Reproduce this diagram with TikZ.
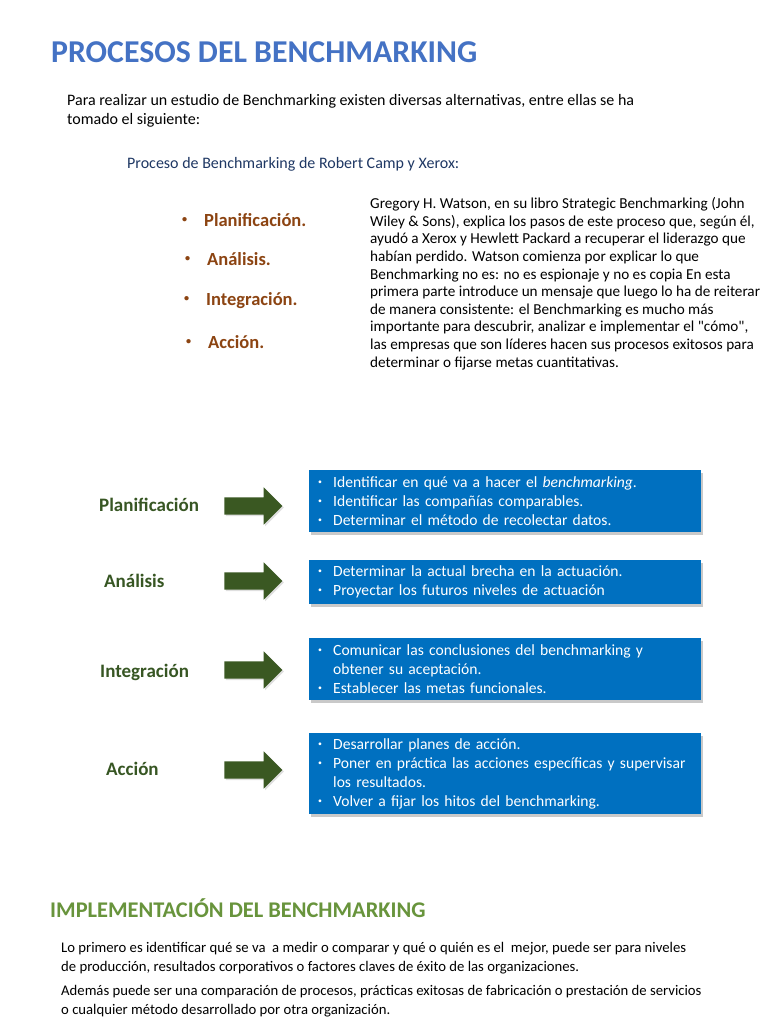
\documentclass[tikz,border=0pt]{standalone}
\usepackage{fontspec}
\setmainfont{Carlito}[Ligatures=TeXOff]
\usepackage{tikz}
\usetikzlibrary{
  shapes.arrows,
  positioning,
  shadows
}
\usepackage{xcolor}
\definecolor{titleblue} {RGB}{68, 114, 196}
\definecolor{subblue}   {RGB}{31,  56, 100}
\definecolor{phasebrown}{RGB}{140, 68,  18}
\definecolor{phasegreen}{RGB}{55,  86,  35}
\definecolor{arrowgreen}{RGB}{58,  88,  34}
\definecolor{boxblue}   {RGB}{0,  112, 192}
\definecolor{implgreen} {RGB}{104, 148, 60}
\newcommand{\bdot}{\makebox[15pt][l]{\raisebox{3pt}{\scalebox{0.5}{\textbullet}}}}
\newcommand{\bgap}{\hspace*{15pt}}
\newcommand{\pdot}{\makebox[22pt][l]{\raisebox{3.5pt}{\scalebox{0.55}{\textbullet}}}}
\tikzset{
  bodytext/.style={
    anchor=base west, inner sep=0pt, align=left,
    font=\fontsize{16}{19}\selectfont
  },
  phaseitem/.style={
    anchor=base west, inner sep=0pt, text=phasebrown,
    font=\fontsize{18.5}{20}\selectfont\bfseries
  },
  phaselabel/.style={
    anchor=base west, inner sep=0pt, text=phasegreen,
    font=\fontsize{19}{20}\selectfont\bfseries
  },
  stepbox/.style={
    anchor=north west, fill=boxblue, text=white,
    minimum width=392pt, minimum height=#1,
    inner xsep=9pt, inner ysep=0pt, align=left,
    text width=374pt,
    font=\fontsize{15.6}{19}\selectfont,
    drop shadow={shadow xshift=2pt, shadow yshift=-2.5pt,
                 opacity=0.35, fill=black!60}
  },
  stepbox/.default=62pt,
  bigarrow/.style={
    single arrow, fill=arrowgreen, draw=none,
    minimum height=58pt, minimum width=37pt,
    single arrow head extend=10pt, inner xsep=0pt, inner ysep=8.5pt,
    drop shadow={shadow xshift=1.5pt, shadow yshift=-1.5pt,
                 opacity=0.25, fill=black!50}
  },
}

\begin{document}
\begin{tikzpicture}[x=1pt, y=-1pt]

\useasboundingbox[fill=white] (0,0) rectangle (768,1024);

% ── Title and introduction ───────────────────────────────────────────────────
\node[anchor=base west, inner sep=0pt, text=titleblue,
      font=\fontsize{31.8}{34}\selectfont\bfseries] (title) at (51,63)
  {PROCESOS DEL BENCHMARKING};

\node[bodytext] (intro) at (67,125) {
  Para realizar un estudio de Benchmarking existen diversas alternativas, entre ellas se ha\\
  tomado el siguiente:
};

\node[bodytext, text=subblue] (camp) at (127,169)
  {Proceso de Benchmarking de Robert Camp y Xerox:};

% ── Phase list ───────────────────────────────────────────────────────────────
\node[phaseitem] (planit) at (182,226) {\pdot Planificación.};
\node[phaseitem] (anait)  at (185,265) {\pdot Análisis.};
\node[phaseitem] (intit)  at (184,305) {\pdot Integración.};
\node[phaseitem] (accit)  at (186,348) {\pdot Acción.};

% ── Watson paragraph ─────────────────────────────────────────────────────────
\node[bodytext, font=\fontsize{15.2}{17.6}\selectfont] (watson) at (370,367) {
  Gregory H. Watson, en su libro Strategic Benchmarking (John\\
  Wiley \& Sons), explica los pasos de este proceso que, según él,\\
  ayudó a Xerox y Hewlett Packard a recuperar el liderazgo que\\
  habían perdido. Watson comienza por explicar lo que\\
  Benchmarking no es: no es espionaje y no es copia En esta\\
  primera parte introduce un mensaje que luego lo ha de reiterar\\
  de manera consistente: el Benchmarking es mucho más\\
  importante para descubrir, analizar e implementar el "cómo",\\
  las empresas que son líderes hacen sus procesos exitosos para\\
  determinar o fijarse metas cuantitativas.
};

% ── Steps: label, arrow, box ─────────────────────────────────────────────────
\node[bigarrow] (arr1) at (249,506) {};
\node[bigarrow] (arr2) at (249,581) {};
\node[bigarrow] (arr3) at (249,670) {};
\node[bigarrow] (arr4) at (249,770) {};

\node[phaselabel] (plan)  at (99,511)  {Planificación};
\node[phaselabel] (ana)   at (104,587) {Análisis};
\node[phaselabel] (integ) at (100,677) {Integración};
\node[phaselabel] (acc)   at (106,775) {Acción};

\node[stepbox=62pt] (box1) at (309,470) {
  \bdot Identificar en qué va a hacer el \textit{benchmarking}.\\
  \bdot Identificar las compañías comparables.\\
  \bdot Determinar el método de recolectar datos.
};

\node[stepbox=44pt] (box2) at (309,560) {
  \bdot Determinar la actual brecha en la actuación.\\
  \bdot Proyectar los futuros niveles de actuación
};

\node[stepbox=62pt] (box3) at (309,638) {
  \bdot Comunicar las conclusiones del benchmarking y\\
  \bgap obtener su aceptación.\\
  \bdot Establecer las metas funcionales.
};

\node[stepbox=81pt] (box4) at (309,733) {
  \bdot Desarrollar planes de acción.\\
  \bdot Poner en práctica las acciones específicas y supervisar\\
  \bgap los resultados.\\
  \bdot Volver a fijar los hitos del benchmarking.
};

% ── Implementation ───────────────────────────────────────────────────────────
\node[anchor=base west, inner sep=0pt, text=implgreen,
      font=\fontsize{22.4}{24}\selectfont\bfseries] (impl) at (50,917)
  {IMPLEMENTACIÓN DEL BENCHMARKING};

\node[bodytext, font=\fontsize{14.7}{19}\selectfont] (impl1) at (61,971) {
  Lo primero es identificar qué se va \ a medir o comparar y qué o quién es el \ mejor, puede ser para niveles\\
  de producción, resultados corporativos o factores claves de éxito de las organizaciones.
};

\node[bodytext, font=\fontsize{14.7}{19}\selectfont] (impl2) at (61,1014) {
  Además puede ser una comparación de procesos, prácticas exitosas de fabricación o prestación de servicios\\
  o cualquier método desarrollado por otra organización.
};

\end{tikzpicture}
\end{document}
